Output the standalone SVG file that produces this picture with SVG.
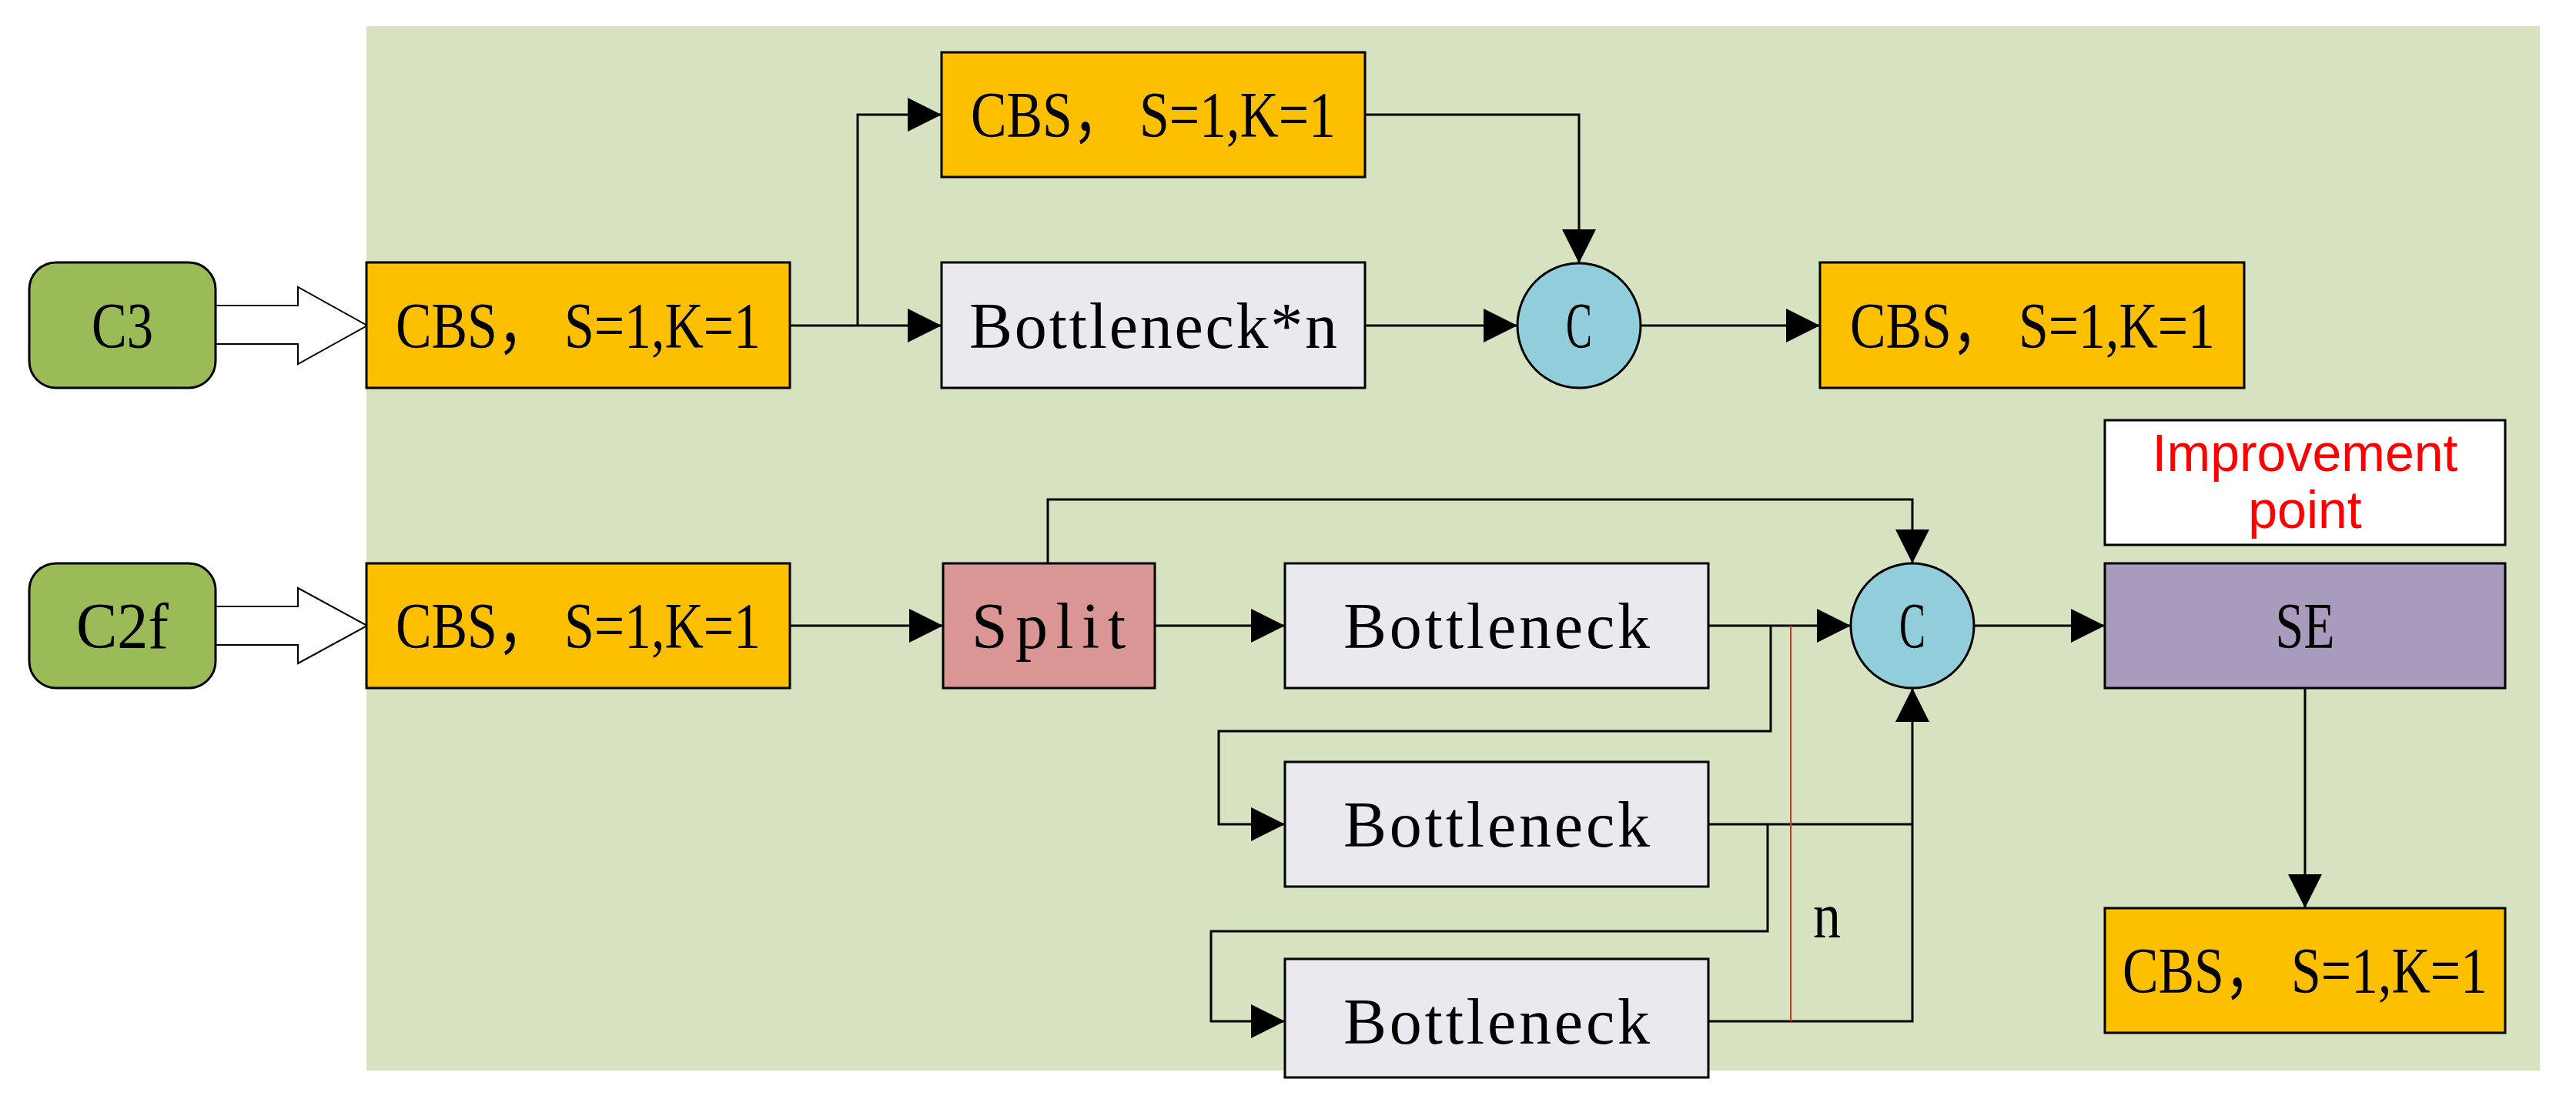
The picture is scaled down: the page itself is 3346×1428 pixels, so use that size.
<svg xmlns="http://www.w3.org/2000/svg" width="3346" height="1428" viewBox="0 0 3346 1428">
<style>
.t{font-family:"Liberation Serif","Noto Sans CJK SC",serif;font-size:84px;fill:#000;text-anchor:middle;dominant-baseline:central}
.b{stroke:#000;stroke-width:3}
.l{fill:none;stroke:#000;stroke-width:3}
</style>
<defs>
<marker id="a" viewBox="0 0 10 10" refX="10" refY="5" markerWidth="44" markerHeight="44" markerUnits="userSpaceOnUse" orient="auto"><path d="M0,0 L10,5 L0,10 z" fill="#000"/></marker>
</defs>
<rect x="0" y="0" width="3346" height="1428" fill="#fff"/>
<rect x="476" y="34" width="2823" height="1357" fill="#d7e3c0"/>
<g id="connectors">
<path class="l" d="M1026,423 H1223" marker-end="url(#a)"/>
<path class="l" d="M1114,423 V149 H1223" marker-end="url(#a)"/>
<path class="l" d="M1773,149 H2051 V342" marker-end="url(#a)"/>
<path class="l" d="M1773,423 H1971" marker-end="url(#a)"/>
<path class="l" d="M2131,423 H2364" marker-end="url(#a)"/>
<path class="l" d="M1026,813 H1225" marker-end="url(#a)"/>
<path class="l" d="M1500,813 H1669" marker-end="url(#a)"/>
<path class="l" d="M1361,732 V649 H2484 V732" marker-end="url(#a)"/>
<path class="l" d="M2219,813 H2404" marker-end="url(#a)"/>
<path class="l" d="M2300,813 V950 H1583 V1071 H1669" marker-end="url(#a)"/>
<path class="l" d="M2219,1071 H2484"/>
<path class="l" d="M2296,1071 V1210 H1573 V1327 H1669" marker-end="url(#a)"/>
<path class="l" d="M2219,1327 H2484 V894" marker-end="url(#a)"/>
<path class="l" d="M2564,813 H2734" marker-end="url(#a)"/>
<path class="l" d="M2994,894 V1180" marker-end="url(#a)"/>
<path d="M2326,813 V1327" stroke="#e03020" stroke-width="2"/>
<path d="M280,397 H387 V373 L477,423 L387,473 V447 H280" fill="#fff" stroke="#000" stroke-width="2"/>
<path d="M280,788 H387 V764 L477,813 L387,862 V838 H280" fill="#fff" stroke="#000" stroke-width="2"/>
</g>
<g id="c3"><rect class="b" x="38" y="341" width="242" height="163" rx="35" fill="#9bbb59"/><text class="t" x="159" y="423" textLength="80" lengthAdjust="spacingAndGlyphs">C3</text></g>
<g id="c2f"><rect class="b" x="38" y="732" width="242" height="162" rx="35" fill="#9bbb59"/><text class="t" x="159" y="813" textLength="120" lengthAdjust="spacingAndGlyphs">C2f</text></g>
<g id="cbs1"><rect class="b" x="476" y="341" width="550" height="163" fill="#fdc000"/><text class="t" x="751" y="423" textLength="474" lengthAdjust="spacingAndGlyphs">CBS， S=1,K=1</text></g>
<g id="cbs2"><rect class="b" x="1223" y="68" width="550" height="162" fill="#fdc000"/><text class="t" x="1498" y="149" textLength="474" lengthAdjust="spacingAndGlyphs">CBS， S=1,K=1</text></g>
<g id="bneckn"><rect class="b" x="1223" y="341" width="550" height="163" fill="#ebe9f0"/><text class="t" x="1498" y="423" font-size="80" textLength="478" lengthAdjust="spacing">Bottleneck*n</text></g>
<g id="concat1"><ellipse class="b" cx="2051" cy="423" rx="80" ry="81" fill="#92cddc"/><text class="t" x="2051" y="423" textLength="34" lengthAdjust="spacingAndGlyphs">C</text></g>
<g id="cbs3"><rect class="b" x="2364" y="341" width="551" height="163" fill="#fdc000"/><text class="t" x="2640" y="423" textLength="474" lengthAdjust="spacingAndGlyphs">CBS， S=1,K=1</text></g>
<g id="cbs4"><rect class="b" x="476" y="732" width="550" height="162" fill="#fdc000"/><text class="t" x="751" y="813" textLength="474" lengthAdjust="spacingAndGlyphs">CBS， S=1,K=1</text></g>
<g id="split"><rect class="b" x="1225" y="732" width="275" height="162" fill="#d99694"/><text class="t" x="1362" y="813" font-size="80" textLength="200" lengthAdjust="spacing">Split</text></g>
<g id="b1"><rect class="b" x="1669" y="732" width="550" height="162" fill="#ebe9f0"/><text class="t" x="1944" y="813" font-size="80" textLength="398" lengthAdjust="spacing">Bottleneck</text></g>
<g id="b2"><rect class="b" x="1669" y="990" width="550" height="162" fill="#ebe9f0"/><text class="t" x="1944" y="1071" font-size="80" textLength="398" lengthAdjust="spacing">Bottleneck</text></g>
<g id="b3"><rect class="b" x="1669" y="1246" width="550" height="154" fill="#ebe9f0"/><text class="t" x="1944" y="1327" font-size="80" textLength="398" lengthAdjust="spacing">Bottleneck</text></g>
<g id="concat2"><ellipse class="b" cx="2484" cy="813" rx="80" ry="81" fill="#92cddc"/><text class="t" x="2484" y="813" textLength="34" lengthAdjust="spacingAndGlyphs">C</text></g>
<g id="n"><text class="t" x="2373" y="1189" textLength="36" lengthAdjust="spacingAndGlyphs">n</text></g>
<g id="improve"><rect class="b" x="2734" y="546" width="520" height="162" fill="#fff"/><text x="2994" y="612" font-family="Liberation Sans,Arial,sans-serif" font-size="68" fill="#ff0000" text-anchor="middle">Improvement</text><text x="2994" y="686" font-family="Liberation Sans,Arial,sans-serif" font-size="68" fill="#ff0000" text-anchor="middle">point</text></g>
<g id="se"><rect class="b" x="2734" y="732" width="520" height="162" fill="#a99bbd"/><text class="t" x="2994" y="813" textLength="77" lengthAdjust="spacingAndGlyphs">SE</text></g>
<g id="cbs5"><rect class="b" x="2734" y="1180" width="520" height="162" fill="#fdc000"/><text class="t" x="2994" y="1261" textLength="474" lengthAdjust="spacingAndGlyphs">CBS， S=1,K=1</text></g>
</svg>
